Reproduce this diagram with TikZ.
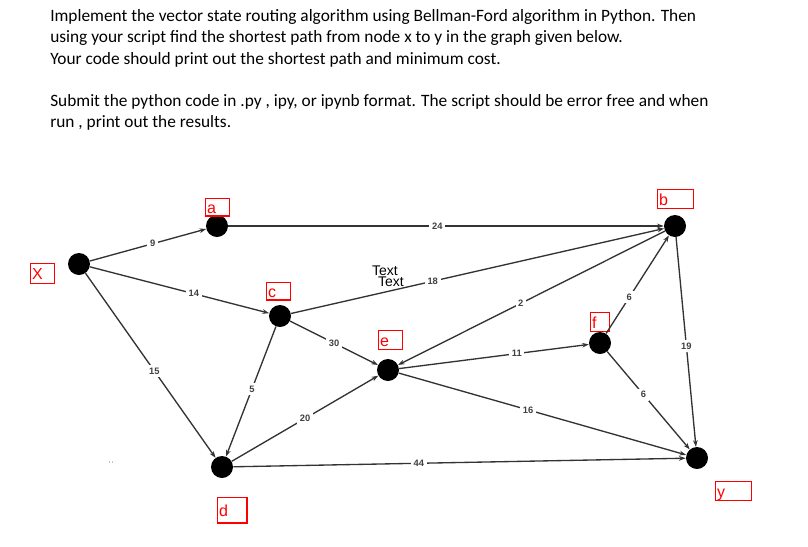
\documentclass[tikz,border=0pt]{standalone}
\usepackage{fontspec}
\setmainfont{Carlito}
\newfontfamily\arial{Liberation Sans}
\usetikzlibrary{arrows.meta}
\begin{document}
\begin{tikzpicture}[x=0.75pt,y=-0.75pt,
  v/.style={circle,fill=black,minimum size=16.5pt,inner sep=0pt},
  lab/.style={draw=red,line width=1pt,text=red,font=\arial\fontsize{12}{12}\selectfont,anchor=north west,inner xsep=1pt,inner ysep=0pt,align=left,text height=9pt,text depth=0pt},
  e/.style={draw=black!80,line width=1pt,-{Stealth[length=5pt,width=3.5pt]}},
  w/.style={fill=white,font=\arial\bfseries\fontsize{7}{7}\selectfont,text=black!75,inner sep=2pt}]
\useasboundingbox (0,0) rectangle (808,547);
\fill[white] (0,0) rectangle (808,547);
\node[anchor=north west,align=left,font=\fontsize{13}{16.2}\selectfont,inner sep=0pt] (t1) at (50,9)
{Implement the vector state routing algorithm using Bellman-Ford algorithm in Python. Then\\
using your script find the shortest path from node x to y in the graph given below.\\
Your code should print out the shortest path and minimum cost.};
\node[anchor=north west,align=left,font=\fontsize{13}{16.2}\selectfont,inner sep=0pt] (t2) at (50,94)
{Submit the python code in .py , ipy, or ipynb format. The script should be error free and when\\
run , print out the results.};
\node[v] (x) at (79,264) {};
\node[v] (a) at (217,226) {};
\node[v] (b) at (675,226) {};
\node[v] (c) at (280,316) {};
\node[v] (d) at (222,467) {};
\node[v] (ee) at (388,370) {};
\node[v] (f) at (600,343) {};
\node[v] (y) at (697,458) {};
\node[lab,text width=16pt,minimum height=15pt] (lx) at (30,263) {X};
\node[lab,text width=16pt,minimum height=13pt] (la) at (205,198) {a};
\node[lab,text width=25pt,minimum height=14pt] (lb) at (657,189) {b};
\node[lab,text width=16pt,minimum height=13pt] (lc) at (266,282) {c};
\node[lab,text width=16pt,minimum height=14pt] (le) at (378,330) {e};
\node[lab,text width=12pt,minimum height=14pt] (lf) at (590,312) {f};
\node[lab,text width=20pt,minimum height=19pt] (ld) at (217,497) {d};
\node[lab,text width=25pt,minimum height=14pt] (ly) at (715,481) {y};
\draw[e] (x) -- node[w,pos=0.54]{9} (a);
\draw[e] (a) -- node[w,pos=0.48]{24} (b);
\draw[e] (x) -- node[w,pos=0.58]{14} (c);
\draw[e] (c) -- node[w,pos=0.38]{18} (b);
\draw[e] (c) -- node[w,pos=0.5]{30} (ee);
\draw[e] (x) -- node[w,pos=0.53]{15} (d);
\draw[e] (c) -- node[w,pos=0.48]{5} (d);
\draw[e] (d) -- node[w,pos=0.5]{20} (ee);
\draw[e] (b) -- node[w,pos=0.54]{2} (ee);
\draw[e] (ee) -- node[w,pos=0.62]{11} (f);
\draw[e] (f) -- node[w,pos=0.37]{6} (b);
\draw[e] (b) -- node[w,pos=0.52]{19} (y);
\draw[e] (ee) -- node[w,pos=0.45]{16} (y);
\draw[e] (f) -- node[w,pos=0.44]{6} (y);
\draw[e] (d) -- node[w,pos=0.41]{44} (y);
\node[font=\arial\fontsize{10.5}{10.5}\selectfont,inner sep=0pt] (tx1) at (385,271) {Text};
\node[font=\arial\fontsize{10.5}{10.5}\selectfont,inner sep=0pt] (tx2) at (391,282) {Text};
\node[font=\arial\fontsize{5}{5}\selectfont,text=black!60,inner sep=0pt] (dots) at (111,464) {' '};
\end{tikzpicture}
\end{document}
